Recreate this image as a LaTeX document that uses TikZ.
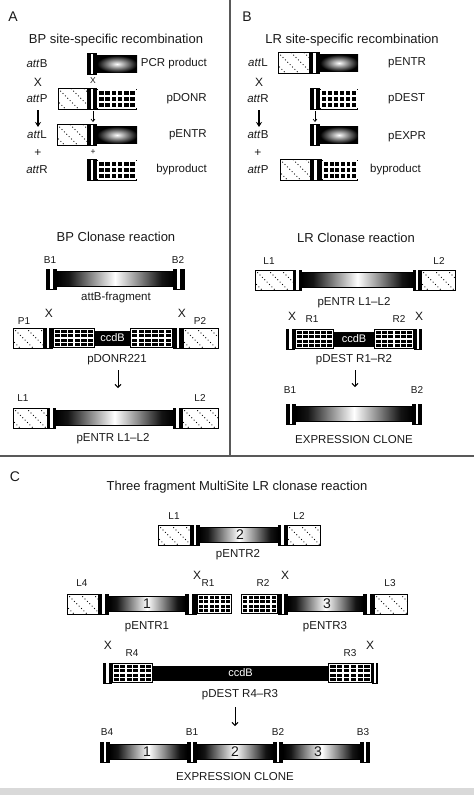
\documentclass[tikz,border=0pt]{standalone}
\usepackage{fontspec}
\setmainfont{Liberation Sans}
\usetikzlibrary{arrows.meta}

\pgfdeclarehorizontalshading{gene}{100bp}{color(0bp)=(black); color(25bp)=(black); color(30bp)=(black!92); color(40bp)=(black!45); color(50bp)=(white); color(60bp)=(black!45); color(70bp)=(black!92); color(75bp)=(black); color(100bp)=(black)}

% half heights of the parts, reset per panel
\newcommand{\bh}{10}
\newcommand{\ch}{10.5}
\newcommand{\gh}{7.5}
\newcommand{\gw}{1.2}

% dotted arm of an att site
\newcommand{\hatchbox}[3]{%
  \begin{scope}
    \clip (#1,#3-\bh) rectangle (#2,#3+\bh);
    \fill[white] (#1,#3-\bh) rectangle (#2,#3+\bh);
    \foreach \k in {-26,-13,...,52}
      \draw[hatchline] (#1+\k,#3-\bh) -- ++(2*\bh,2*\bh);
  \end{scope}
  \draw[boxline] (#1,#3-\bh) rectangle (#2,#3+\bh);
}
% chequered arm
\newcommand{\gridbox}[5]{%
  \fill (#1,#3-\bh) rectangle (#2,#3+\bh);
  \pgfmathsetmacro\gdx{(#2-#1-2.4)/#4}
  \pgfmathsetmacro\gdy{(2*\bh-2.4)/#5}
  \foreach \i in {0,...,#4}
    \draw[gridline] (#1+1.2+\i*\gdx,#3-\bh+1.2) -- ++(0,2*\bh-2.4);
  \foreach \j in {0,...,#5}
    \draw[gridline] (#1+1.2,#3-\bh+1.2+\j*\gdy) -- (#2-1.2,#3-\bh+1.2+\j*\gdy);
}
% core of an att site
\newcommand{\attcore}[3]{%
  \fill (#1,#3-\ch) rectangle (#2,#3+\ch);
  \fill[white] ({#1+0.36*(#2-#1)},#3-\ch+0.9) rectangle ({#1+0.62*(#2-#1)},#3+\ch-0.9);
}
% gene, dark ends
\newcommand{\genebar}[3]{%
  \shade[shading=gene] (#1,#3-\gh) rectangle (#2,#3+\gh);
  \draw[boxline] (#1,#3-\gh) -- (#2,#3-\gh) (#1,#3+\gh) -- (#2,#3+\gh);
}
\newcommand{\blobbar}[3]{%
  \shade[inner color=white, outer color=black] (#1,#3-\gh) rectangle (#2,#3+\gh);
}
\newcommand{\ccdbox}[4]{%
  \fill (#1,#3-\gh) rectangle (#2,#3+\gh);
  \node[ccd] (#4) at ({(#1+#2)/2},#3) {ccdB};
}

\begin{document}
\begin{tikzpicture}[x=1pt,y=-1pt,
    every node/.style={text=black!90, inner sep=1pt},
    panel/.style={font=\fontsize{14}{16}\selectfont},
    heading/.style={font=\fontsize{13}{15}\selectfont},
    lbl/.style={font=\fontsize{11.5}{13}\selectfont},
    site/.style={font=\fontsize{10}{12}\selectfont},
    cross/.style={font=\fontsize{12}{14}\selectfont},
    tiny/.style={font=\fontsize{8.5}{10}\selectfont},
    num/.style={font=\fontsize{14}{16}\selectfont},
    ccd/.style={font=\fontsize{11}{13}\selectfont, text=white},
    hatchline/.style={line width=0.85pt, dash pattern=on 0.85pt off 2.5pt},
    gridline/.style={white, line width=\gw pt},
    boxline/.style={line width=0.5pt},
    frame/.style={black!65, line width=1.2pt},
    bigarrow/.style={line width=1.3pt, -{Stealth[length=5pt,width=6pt]}},
    thinarrow/.style={line width=0.6pt, -{Straight Barb[length=2.5pt,width=4pt]}},
    arrow/.style={line width=1pt, -{Straight Barb[length=3pt,width=6pt]}}]
\useasboundingbox (0,0) rectangle (474,795);
\fill[gray!30] (0,788) rectangle (474,795);
\coordinate (vTop) at (230,0);
\coordinate (vBot) at (230,456);
\coordinate (hLeft) at (0,456);
\coordinate (hRight) at (474,456);
\draw[frame] (vTop) -- (vBot);
\draw[frame] (hLeft) -- (hRight);

% ---- A
\node[panel] (A) at (13,17) {A};
\node[heading] (titleA) at (116,40) {BP site-specific recombination};
\begin{scope}
  \def\bh{10.5}\def\ch{11}\def\gh{8.5}\def\gw{1.8}
  \attcore{87}{97}{64} \blobbar{97}{137}{64}
  \hatchbox{58}{87}{99} \attcore{87}{97}{99} \gridbox{97}{137}{99}{6}{3}
  \hatchbox{57}{87}{135} \attcore{87}{97}{135} \blobbar{97}{137}{135}
  \attcore{87}{97}{170} \gridbox{97}{137}{170}{6}{3}
\end{scope}
\node[lbl] (attB) at (37,64) {\textit{att}B};
\node[lbl, anchor=east] (pcr) at (208,64) {PCR product};
\node[cross] (xA) at (38,82) {X};
\node[tiny] (xAsmall) at (93,81) {X};
\node[lbl] (attP) at (37,99) {\textit{att}P};
\node[lbl, anchor=east] (pdonr) at (208,99) {pDONR};
\coordinate (aTop) at (38,110);
\coordinate (aBot) at (38,127);
\draw[bigarrow] (aTop) -- (aBot);
\coordinate (asTop) at (93,111);
\coordinate (asBot) at (93,122);
\draw[thinarrow] (asTop) -- (asBot);
\node[lbl] (attL) at (37,135) {\textit{att}L};
\node[lbl, anchor=east] (pentr) at (208,135) {pENTR};
\node[cross] (plusA) at (38,153) {+};
\node[tiny] (plusAsmall) at (93,152) {+};
\node[lbl] (attR) at (37,170) {\textit{att}R};
\node[lbl, anchor=east] (byA) at (208,170) {byproduct};

\node[heading] (bpTitle) at (116,237) {BP Clonase reaction};
\attcore{46}{57}{279} \genebar{57}{173}{279} \attcore{173}{185}{279}
\node[site] (bB1) at (50,260) {B1};
\node[site] (bB2) at (178,260) {B2};
\node[lbl] (attBfrag) at (116,298) {attB-fragment};
\node[cross] (bX1) at (49,313) {X};
\node[cross] (bX2) at (182,313) {X};
\node[site] (bP1) at (24,321) {P1};
\node[site] (bP2) at (200,321) {P2};
\hatchbox{13}{43}{338} \attcore{43}{53}{338} \gridbox{53}{95}{338}{6}{4}
\ccdbox{95}{130}{338}{ccdA} \gridbox{130}{173}{338}{6}{4}
\attcore{173}{183}{338} \hatchbox{183}{218}{338}
\node[lbl] (donr221) at (117,360) {pDONR221};
\coordinate (bpTop) at (118,370);
\coordinate (bpBot) at (118,388);
\draw[arrow] (bpTop) -- (bpBot);
\node[site] (bL1) at (23,398) {L1};
\node[site] (bL2) at (200,398) {L2};
\hatchbox{13}{47}{418} \attcore{47}{56}{418} \genebar{56}{173}{418}
\attcore{173}{182}{418} \hatchbox{182}{218}{418}
\node[lbl] (entrA) at (113,439) {pENTR L1--L2};

% ---- B
\node[panel] (B) at (247,17) {B};
\node[heading] (titleB) at (352,40) {LR site-specific recombination};
\begin{scope}
  \def\bh{10.5}\def\ch{11}\def\gh{8.5}\def\gw{1.8}
  \hatchbox{278}{309}{63} \attcore{309}{320}{63} \blobbar{320}{358}{63}
  \attcore{310}{320}{99} \gridbox{320}{358}{99}{6}{3}
  \attcore{310}{320}{135} \blobbar{320}{358}{135}
  \hatchbox{280}{310}{170} \attcore{310}{322}{170} \gridbox{322}{358}{170}{6}{3}
\end{scope}
\node[lbl] (attL2) at (258,63) {\textit{att}L};
\node[lbl, anchor=west] (pentrB) at (387,63) {pENTR};
\node[cross] (xB) at (259,82) {X};
\node[lbl] (attR2) at (258,99) {\textit{att}R};
\node[lbl, anchor=west] (pdest) at (387,99) {pDEST};
\coordinate (bTop) at (259,110);
\coordinate (bBot) at (259,127);
\draw[bigarrow] (bTop) -- (bBot);
\coordinate (bsTop) at (315,111);
\coordinate (bsBot) at (315,122);
\draw[thinarrow] (bsTop) -- (bsBot);
\node[lbl] (attB2) at (258,135) {\textit{att}B};
\node[lbl, anchor=west] (pexpr) at (387,137) {pEXPR};
\node[cross] (plusB) at (258,153) {+};
\node[lbl] (attP2) at (258,170) {\textit{att}P};
\node[lbl, anchor=west] (byB) at (369,170) {byproduct};

\node[heading] (lrTitle) at (356,238) {LR Clonase reaction};
\node[site] (rL1) at (269,261) {L1};
\node[site] (rL2) at (439,261) {L2};
\hatchbox{255}{293}{280} \attcore{293}{302}{280} \genebar{302}{413}{280}
\attcore{413}{421}{280} \hatchbox{421}{455}{280}
\node[lbl] (entrB) at (354,303) {pENTR L1--L2};
\node[cross] (rX1) at (292,316) {X};
\node[cross] (rX2) at (419,316) {X};
\node[site] (rR1) at (312,319) {R1};
\node[site] (rR2) at (399,319) {R2};
\attcore{286}{295}{339} \gridbox{295}{334}{339}{6}{4} \ccdbox{334}{374}{339}{ccdB}
\gridbox{374}{414}{339}{6}{4} \attcore{414}{422}{339}
\node[lbl] (destB) at (354,360) {pDEST R1--R2};
\coordinate (lrTop) at (355,370);
\coordinate (lrBot) at (355,387);
\draw[arrow] (lrTop) -- (lrBot);
\node[site] (rB1) at (290,390) {B1};
\node[site] (rB2) at (417,390) {B2};
\attcore{286}{296}{414} \genebar{296}{412}{414} \attcore{412}{422}{414}
\node[lbl] (exprB) at (354,440) {EXPRESSION CLONE};

% ---- C
\node[panel] (C) at (15,477) {C};
\node[heading] (titleC) at (237,487) {Three fragment MultiSite LR clonase reaction};
\node[site] (cL1) at (174,516) {L1};
\node[site] (cL2) at (299,516) {L2};
\hatchbox{158}{190}{535} \attcore{190}{200}{535} \genebar{200}{278}{535}
\attcore{278}{287}{535} \hatchbox{287}{320}{535}
\node[num] (n2) at (240,535) {2};
\node[lbl] (entr2) at (238,555) {pENTR2};

\node[cross] (cX1) at (197,575) {X};
\node[cross] (cX2) at (285,575) {X};
\node[site] (cL4) at (82,583) {L4};
\node[site] (cR1) at (208,583) {R1};
\node[site] (cR2) at (263,583) {R2};
\node[site] (cL3) at (390,583) {L3};
\hatchbox{67}{98}{604} \attcore{98}{109}{604} \genebar{109}{185}{604}
\attcore{185}{197}{604} \gridbox{197}{232}{604}{6}{4}
\gridbox{241}{278}{604}{6}{4} \attcore{278}{288}{604} \genebar{288}{363}{604}
\attcore{363}{374}{604} \hatchbox{374}{407}{604}
\node[num] (n1) at (147,604) {1};
\node[num] (n3) at (327,604) {3};
\node[lbl] (entr1) at (147,627) {pENTR1};
\node[lbl] (entr3) at (325,627) {pENTR3};

\node[cross] (cX3) at (108,645) {X};
\node[cross] (cX4) at (370,645) {X};
\node[site] (cR4) at (132,653) {R4};
\node[site] (cR3) at (350,653) {R3};
\attcore{103}{112}{673} \gridbox{112}{153}{673}{6}{4} \ccdbox{153}{328}{673}{ccdC}
\gridbox{328}{372}{673}{6}{4} \attcore{372}{378}{673}
\node[lbl] (destC) at (240,695) {pDEST R4--R3};
\coordinate (cTop) at (235,707);
\coordinate (cBot) at (235,726);
\draw[arrow] (cTop) -- (cBot);

\node[site] (cB4) at (107,732) {B4};
\node[site] (cB1) at (192,732) {B1};
\node[site] (cB2) at (278,732) {B2};
\node[site] (cB3) at (363,732) {B3};
\attcore{100}{110}{752} \genebar{110}{187}{752} \attcore{187}{197}{752}
\genebar{197}{273}{752} \attcore{273}{283}{752} \genebar{283}{360}{752}
\attcore{360}{370}{752}
\node[num] (e1) at (147,752) {1};
\node[num] (e2) at (235,752) {2};
\node[num] (e3) at (318,752) {3};
\node[lbl] (exprC) at (235,777) {EXPRESSION CLONE};
\end{tikzpicture}
\end{document}
